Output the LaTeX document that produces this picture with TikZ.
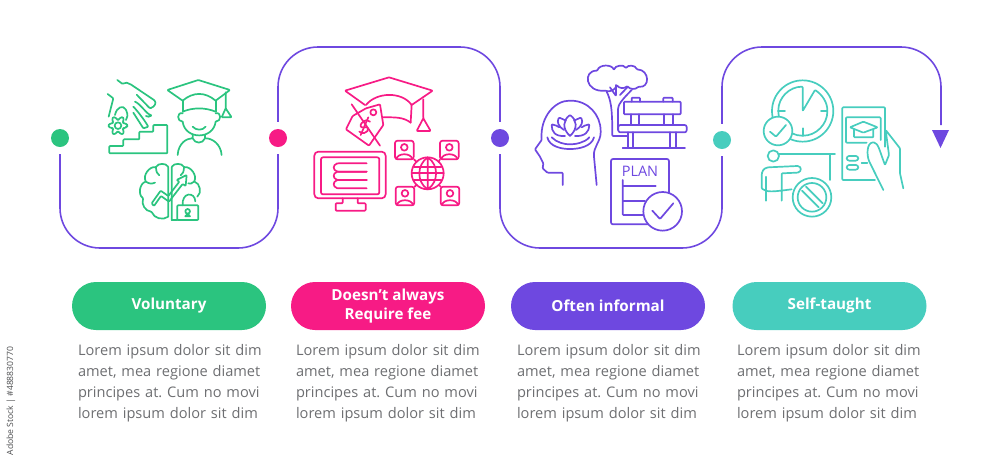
\documentclass[tikz,border=0pt]{standalone}
\usepackage{fontspec}
\setmainfont{Open Sans}
\usetikzlibrary{positioning}
\definecolor{vgreen}{HTML}{2BC47F}
\definecolor{vpink}{HTML}{F71B85}
\definecolor{vviolet}{HTML}{6E48E0}
\definecolor{vteal}{HTML}{47CDBE}
\definecolor{vgrey}{HTML}{6D6E71}
\tikzset{
  dot/.style={circle,fill=#1,minimum size=18pt,inner sep=0pt},
  pill/.style={fill=#1,rounded corners=24pt,minimum width=194pt,minimum height=48pt,inner sep=0pt,
    text=white,align=center,font=\fontsize{15.2}{19}\selectfont\bfseries},
  blurb/.style={text=vgrey,align=left,text width=188pt,inner sep=0pt,font=\fontsize{14.6}{21.2}\selectfont\frenchspacing},
  wire/.style={vviolet,line width=1.6pt,rounded corners=40pt,shorten <=7pt,shorten >=0pt},
  icon/.style={x=0.3333pt,y=-0.3333pt,line width=1.7pt,line join=round,line cap=round,rounded corners=0.8pt},
}
\begin{document}
\begin{tikzpicture}[x=1pt,y=-1pt]
  \useasboundingbox (0,0) rectangle (1000,467);
  \node (stockid) [rotate=90,text=vgrey!70!black,font=\fontsize{8.6}{9}\selectfont] at (11,401) {Adobe Stock | \#488830770};
  % dots and the line through them
  \coordinate (low) at (0,248);
  \coordinate (high) at (0,47);
  \coordinate (arrowend) at (941,125);
  \node (dotA) [dot=vgreen] at (60,138) {};
  \node (dotB) [dot=vpink] at (278,138) {};
  \node (dotC) [dot=vviolet] at (500,138) {};
  \node (dotD) [dot=vteal] at (722,140) {};
  \draw[wire,shorten >=7pt] (dotA) -- (dotA|-low) -- (dotB|-low) -- (dotB);
  \draw[wire,shorten >=7pt] (dotB) -- (dotB|-high) -- (dotC|-high) -- (dotC);
  \draw[wire,shorten >=7pt] (dotC) -- (dotC|-low) -- (dotD|-low) -- (dotD);
  \draw[wire] (dotD) -- (dotD|-high) -- (arrowend|-high) -- (arrowend);
  \fill[vviolet] (932,130) -- (949,130) -- (940.5,148) -- cycle;
  % pills and texts
  \foreach \name/\xx/\dx/\col/\title in {A/169/3/vgreen/Voluntary,B/388/2/vpink/{Doesn’t always\\Require fee},
      C/608/3/vviolet/Often informal,D/829.5/1.5/vteal/Self-taught} {
    \node (pill\name) [pill=\col] at (\xx,306) {\title};
    \node (text\name) [blurb,below=13.5pt of pill\name,xshift=\dx pt] {Lorem ipsum dolor sit dim\\amet, mea regione diamet\\principes at. Cum no movi\\lorem ipsum dolor sit dim};
  }
  % voluntary
  \begin{scope}[shift={(40,60)},icon,draw=vgreen]
    \draw (232,60) -- (248,72) .. controls (255,66) and (265,68) .. (275,75) -- (342,120) .. controls (350,128) and (345,140) .. (330,145) -- (325,140);
    \draw (290,104) -- (325,140) (285,125) .. controls (300,130) and (322,165) .. (335,165) .. controls (330,172) and (322,170) .. (318,168);
    \draw (280,140) .. controls (290,150) and (310,175) .. (325,200) -- (310,205) -- (280,158);
    \draw (203,102) -- (220,115) -- (206,170);
    \draw (225,165) .. controls (230,140) and (250,135) .. (258,150) .. controls (265,165) and (262,172) .. (258,180);
    \draw (234,197) circle (10);
    \draw plot[variable=\t,smooth cycle,samples=36,domain=0:350] ({234+(23+5*cos(6*\t))*cos(\t)},{197+(23+5*cos(6*\t))*sin(\t)});
    \draw (208,280) -- (382,280) -- (382,195) -- (340,195) -- (340,215) -- (298,215) -- (298,238) -- (250,238) -- (250,258) -- (208,258) -- cycle;
    \draw (428,122) -- (382,90) -- (475,60) -- (570,90) -- (527,122);
    \draw (428,122) .. controls (460,95) and (495,95) .. (527,122);
    \draw (428,155) -- (428,122) (527,122) -- (527,155);
    \draw (428,155) .. controls (460,142) and (495,142) .. (527,155);
    \draw (557,97) -- (557,145) -- (575,172) -- (545,172) -- (557,145);
    \draw (428,160) .. controls (410,155) and (410,185) .. (428,185);
    \draw (527,160) .. controls (545,155) and (545,185) .. (527,185);
    \draw (428,185) .. controls (435,240) and (520,240) .. (527,185);
    \draw (458,200) .. controls (468,212) and (488,212) .. (497,200);
    \draw (413,285) .. controls (415,250) and (440,235) .. (458,235) -- (458,225);
    \draw (545,285) .. controls (542,250) and (515,235) .. (495,235) -- (495,225);
    \draw (458,235) .. controls (465,252) and (488,252) .. (495,235);
    \draw (385,470) -- (385,322) to[bend right=65] (348,322) to[bend right=65] (318,365) to[bend right=65] (310,415) to[bend right=55] (335,455) to[bend right=55] (385,470);
    \draw (395,480) -- (395,322) to[bend left=65] (432,322) to[bend left=65] (462,365) to[bend left=65] (472,410);
    \draw (395,480) -- (412,480);
    \draw (348,322) .. controls (348,335) and (352,342) .. (358,346) (318,365) .. controls (328,372) and (335,372) .. (345,368) (432,322) .. controls (432,335) and (428,342) .. (422,346) (462,365) .. controls (455,372) and (450,372) .. (445,370);
    \draw (335,430) -- (362,392) -- (385,408) -- (418,365) -- (410,360) -- (440,345) -- (437,378) -- (428,372) -- (387,425) -- (363,408) -- (342,438) -- cycle;
    \draw (412,436) rectangle (475,480);
    \draw (428,436) .. controls (425,395) and (465,395) .. (466,424);
    \draw (443,454) circle (7) (436,469) -- (450,469) (443,461) -- (436,469) (443,461) -- (450,469);
  \end{scope}
  % fee
  \begin{scope}[shift={(270,40)},icon,draw=vpink]
    \draw (285,195) -- (225,152) -- (357,112) -- (488,152) -- (425,195);
    \draw (288,195) .. controls (320,155) and (395,155) .. (425,195) -- (422,248);
    \draw (422,248) .. controls (400,230) and (370,232) .. (340,232);
    \draw (460,178) -- (460,235) -- (482,273) -- (440,273) -- (460,235);
    \draw (228,268) -- (248,228) -- (288,205) -- (330,193) -- (340,255) -- (297,317) -- cycle;
    \draw (310,217) circle (9);
    \draw (245,193) -- (330,317);
    \draw (300,245) .. controls (280,230) and (260,265) .. (283,262) .. controls (305,260) and (290,290) .. (268,275);
    \draw (295,232) -- (272,285);
    \draw[rounded corners=4pt] (133,335) rectangle (347,475);
    \draw[rounded corners=2pt] (153,352) rectangle (328,463);
    \draw (218,475) -- (218,490) -- (197,490) -- (197,512) -- (287,512) -- (287,490) -- (263,490) -- (263,475);
    \foreach \yy in {370,395,420}
      \draw (290,\yy) -- (203,\yy) .. controls (188,\yy+5) and (188,\yy+20) .. (203,\yy+25) -- (290,\yy+25);
    \draw (473,400) circle (48);
    \draw (473,352) .. controls (440,375) and (440,425) .. (473,448) .. controls (506,425) and (506,375) .. (473,352) -- (473,448);
    \draw (432,380) -- (514,380) (425,400) -- (521,400) (432,420) -- (514,420);
    \foreach \bx/\by/\ax/\ay/\cx/\cy in {403/330/432/358/440/366,538/330/510/358/506/366,405/468/434/440/440/434,540/468/512/440/506/434} {
      \draw[rounded corners=2.5pt] (\bx-28,\by-28) rectangle (\bx+28,\by+28);
      \draw (\bx,\by-8) circle (10);
      \draw (\bx-24,\by+27) .. controls (\bx-20,\by+8) and (\bx+20,\by+8) .. (\bx+24,\by+27);
      \draw (\ax,\ay) -- (\cx,\cy);
    }
  \end{scope}
  % informal
  \begin{scope}[shift={(490,50)},icon,draw=vviolet]
    \draw (345,122) .. controls (285,128) and (278,62) .. (322,62) to[bend left=70] (372,60) to[bend left=70] (408,55) to[bend left=70] (440,58) .. controls (480,60) and (480,115) .. (445,110) to[bend left=50] (412,108) to[bend left=50] (380,105) to[bend left=50] (345,122);
    \draw (350,125) .. controls (362,150) and (367,170) .. (367,258) -- (410,258);
    \draw (384,240) -- (384,180) .. controls (384,165) and (395,150) .. (425,120);
    \draw (360,112) -- (378,138) -- (378,105) (390,135) -- (412,112);
    \draw (402,155) rectangle (572,193);
    \draw (425,155) -- (425,143) -- (450,143) -- (450,155) (520,155) -- (520,143) -- (548,143) -- (548,155);
    \draw (424,193) -- (424,225) (447,193) -- (447,225) (522,193) -- (522,225) (548,193) -- (548,225);
    \draw[rounded corners=2pt] (385,225) rectangle (590,247);
    \draw (415,247) -- (415,293) (430,247) -- (430,293) (540,247) -- (540,293) (557,247) -- (557,293);
    \draw (398,293) -- (585,293);
    \draw (218,405) -- (218,368) -- (172,368) -- (158,355) -- (160,340) -- (150,320) -- (135,298) -- (155,270) .. controls (150,200) and (195,152) .. (240,152) .. controls (295,152) and (332,195) .. (332,245) .. controls (332,275) and (310,290) .. (312,320) -- (320,405);
    \draw (240,258) .. controls (215,235) and (220,210) .. (240,195) .. controls (260,210) and (265,235) .. (240,258);
    \draw (222,240) .. controls (205,230) and (200,215) .. (207,203) .. controls (215,205) and (222,210) .. (228,212);
    \draw (258,240) .. controls (275,230) and (280,215) .. (273,203) .. controls (265,205) and (258,210) .. (252,212);
    \draw (225,258) .. controls (195,260) and (185,245) .. (185,223) .. controls (195,225) and (203,228) .. (208,232);
    \draw (255,258) .. controls (285,260) and (298,245) .. (298,223) .. controls (288,225) and (280,228) .. (275,232);
    \draw (172,262) .. controls (178,290) and (215,297) .. (240,297) .. controls (265,297) and (305,290) .. (312,262);
    \draw (185,262) .. controls (200,278) and (225,283) .. (240,283) .. controls (255,283) and (285,278) .. (298,262);
    \draw[rounded corners=2pt] (363,327) rectangle (537,523);
    \node (plantext) [text=vviolet,inner sep=0pt,font=\fontsize{14.5}{15}\selectfont] at (450,363) {PLAN};
    \draw (398,390) -- (398,495) -- (470,495) (398,408) -- (497,408) (398,453) -- (465,453);
    \draw[fill=white] (518,484) circle (58);
    \draw (487,482) -- (510,507) -- (550,460);
  \end{scope}
  % self-taught
  \begin{scope}[shift={(710,40)},icon,draw=vteal]
    \draw (278,213) circle (92);
    \draw (278,213) -- (278,140) .. controls (238,140) and (205,173) .. (205,213) .. controls (205,253) and (238,287) .. (278,287) .. controls (318,287) and (352,253) .. (352,213) .. controls (352,188) and (338,165) .. (315,150) -- cycle;
    \draw (278,287) -- (278,265) (352,213) -- (333,213) (205,213) -- (225,213);
    \draw[fill=white] (204,273) circle (43);
    \draw (180,275) -- (198,290) -- (228,255);
    \draw (190,348) circle (17);
    \draw (207,342) -- (375,342) (360,342) -- (360,420);
    \draw (168,482) -- (168,410) (215,482) -- (215,400) -- (262,398) .. controls (275,395) and (275,380) .. (262,378) -- (175,382) .. controls (160,385) and (155,395) .. (155,410) -- (155,445) .. controls (170,458) and (190,455) .. (245,448);
    \draw[fill=white] (306,472) circle (58);
    \draw (306,472) circle (43);
    \draw (276,452) -- (326,502) (288,440) -- (338,490);
    \draw (525,320) -- (525,202) -- (397,202) -- (397,420) -- (495,420);
    \draw (512,300) -- (512,232) -- (408,232) -- (408,308) -- (470,308);
    \draw (420,262) -- (460,245) -- (503,262) -- (460,278) -- cycle;
    \draw (432,268) -- (432,292) -- (490,292) -- (490,268);
    \draw[rounded corners=2.5pt] (410,348) rectangle (445,362) (410,375) rectangle (445,389);
    \draw (455,368) -- (472,368);
    \draw (520,450) -- (478,365) .. controls (470,345) and (470,310) .. (490,307) .. controls (505,310) and (508,330) .. (525,375) -- (537,345) -- (527,270) -- (570,325) -- (570,400) -- (580,445);
  \end{scope}
\end{tikzpicture}
\end{document}
